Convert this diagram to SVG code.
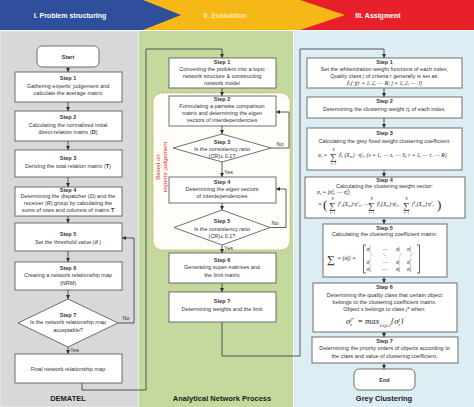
<svg xmlns="http://www.w3.org/2000/svg" width="474" height="407" viewBox="0 0 474 407">
<style>
.box{fill:#fff;stroke:#606060;stroke-width:0.9}
.t{font-family:"Liberation Sans",Arial,sans-serif;font-size:5.5px;fill:#333;text-anchor:middle}
.b{font-weight:bold}
.h{font-family:"Liberation Sans",Arial,sans-serif;font-size:7px;font-weight:bold;text-anchor:middle}
.lab{font-family:"Liberation Sans",Arial,sans-serif;font-size:7.5px;font-weight:bold;fill:#222;text-anchor:middle}
.m{font-family:"Liberation Serif","Times New Roman",serif;font-style:italic;font-size:5.5px;fill:#222}
.sm{font-size:3.8px}
.sum{font-family:"Liberation Serif","Times New Roman",serif;font-size:9px;fill:#222}
.lim{font-family:"Liberation Serif","Times New Roman",serif;font-style:italic;font-size:3.5px;fill:#222;text-anchor:middle}
.c{fill:none;stroke:#333;stroke-width:0.8}
.red{font-family:"Liberation Sans",Arial,sans-serif;font-size:6px;fill:#e0301e;text-anchor:middle}
.mx{font-family:"Liberation Serif","Times New Roman",serif;font-style:italic;font-size:5.2px;fill:#222}
.ms{font-size:3.4px}
</style>
<defs>
<marker id="ah" viewBox="0 0 10 10" refX="10" refY="5" markerWidth="4" markerHeight="4" orient="auto" markerUnits="userSpaceOnUse"><path d="M0,0 L10,5 L0,10 z" fill="#333"/></marker>
</defs>

<!-- header -->
<g id="header">
<rect x="300" y="0" width="174" height="30" fill="#e8202a"/>
<polygon points="143,0 300,0 345,15 300,30 143,30" fill="#f6b817"/>
<polygon points="0,0 143,0 181,15 143,30 0,30" fill="#2f4f9d"/>
<text class="h" x="70" y="17.5" fill="#fff">I. Problem structuring</text>
<text class="h" x="225" y="17.5" fill="#fdeaa6">II. Evaluation</text>
<text class="h" x="378" y="17.5" fill="#fff">III. Assigment</text>
</g>

<!-- panels -->
<g id="panels">
<rect x="0" y="31" width="138.5" height="376" fill="#d8d8d8" stroke="#ececec" stroke-width="1"/>
<rect x="139" y="31" width="154" height="376" fill="#c5d99f"/>
<rect x="294" y="31" width="180" height="376" fill="#dcedf3"/>
<rect x="153" y="93" width="137" height="157" rx="9" fill="#fffdf8" stroke="#c8925a" stroke-width="0.9" stroke-dasharray="1.2 1.2"/>
<text class="red" transform="translate(160,167) rotate(-90)">Based on</text>
<text class="red" transform="translate(167,167) rotate(-90)">experts' judgement</text>
<text class="lab" x="68" y="401">DEMATEL</text>
<text class="lab" x="222" y="401">Analytical Network Process</text>
<text class="lab" x="384" y="401">Grey Clustering</text>
</g>

<!-- connectors -->
<g id="connectors">
<line class="c" x1="68" y1="67" x2="68" y2="72" marker-end="url(#ah)"/>
<line class="c" x1="68" y1="102" x2="68" y2="111" marker-end="url(#ah)"/>
<line class="c" x1="68" y1="141" x2="68" y2="150" marker-end="url(#ah)"/>
<line class="c" x1="68" y1="177" x2="68" y2="187" marker-end="url(#ah)"/>
<line class="c" x1="68" y1="216" x2="68" y2="223" marker-end="url(#ah)"/>
<line class="c" x1="68" y1="251" x2="68" y2="262" marker-end="url(#ah)"/>
<line class="c" x1="68" y1="290" x2="68" y2="299" marker-end="url(#ah)"/>
<line class="c" x1="68" y1="347" x2="68" y2="354" marker-end="url(#ah)"/>
<polyline class="c" points="118,323 134,323 134,238 122,238" marker-end="url(#ah)"/>
<polyline class="c" points="82,383 82,390 146,390 146,49 222,49 222,58" marker-end="url(#ah)"/>

<line class="c" x1="222" y1="88" x2="222" y2="96" marker-end="url(#ah)"/>
<line class="c" x1="222" y1="126" x2="222" y2="134" marker-end="url(#ah)"/>
<line class="c" x1="222" y1="162" x2="222" y2="177" marker-end="url(#ah)"/>
<line class="c" x1="222" y1="203" x2="222" y2="210" marker-end="url(#ah)"/>
<line class="c" x1="222" y1="245" x2="222" y2="253" marker-end="url(#ah)"/>
<line class="c" x1="222" y1="283" x2="222" y2="292" marker-end="url(#ah)"/>
<polyline class="c" points="271,148 289,148 289,112 276,112" marker-end="url(#ah)"/>
<polyline class="c" points="270,227.5 286,227.5 286,189 276,189" marker-end="url(#ah)"/>
<polyline class="c" points="222,322 222,356 300,356 300,49 384,49 384,58" marker-end="url(#ah)"/>

<line class="c" x1="384" y1="88" x2="384" y2="97" marker-end="url(#ah)"/>
<line class="c" x1="384" y1="118" x2="384" y2="128" marker-end="url(#ah)"/>
<line class="c" x1="384" y1="170" x2="384" y2="177" marker-end="url(#ah)"/>
<line class="c" x1="384" y1="218" x2="384" y2="224" marker-end="url(#ah)"/>
<line class="c" x1="384" y1="277" x2="384" y2="283" marker-end="url(#ah)"/>
<line class="c" x1="384" y1="332" x2="384" y2="337" marker-end="url(#ah)"/>
<line class="c" x1="384" y1="363" x2="384" y2="369" marker-end="url(#ah)"/>

<text class="t" x="126" y="320">No</text>
<text class="t" x="70" y="352" style="text-anchor:start">Yes</text>
<text class="t" x="280" y="146">No</text>
<text class="t" x="224" y="174" style="text-anchor:start">Yes</text>
<text class="t" x="275" y="225">No</text>
<text class="t" x="224" y="250" style="text-anchor:start">Yes</text>
</g>

<!-- DEMATEL nodes -->
<g id="d-start"><rect class="box" x="37" y="46" width="62" height="21" rx="5"/><text class="t b" x="68" y="58.5">Start</text></g>
<g id="d-step1"><rect class="box" x="15" y="72" width="107" height="30"/>
<text class="t b" x="68" y="80">Step 1</text><text class="t" x="68" y="87.5">Gathering experts' judgement and</text><text class="t" x="68" y="94.5">calculate the average matrix</text></g>
<g id="d-step2"><rect class="box" x="15" y="111" width="107" height="30"/>
<text class="t b" x="68" y="119">Step 2</text><text class="t" x="68" y="126.5">Calculating the normalized initial</text><text class="t" x="68" y="133.5">direct-relation matrix (<tspan font-weight="bold">D</tspan>)</text></g>
<g id="d-step3"><rect class="box" x="15" y="150" width="107" height="27"/>
<text class="t b" x="68" y="160">Step 3</text><text class="t" x="68" y="168">Deriving the total relation matrix (<tspan font-weight="bold">T</tspan>)</text></g>
<g id="d-step4"><rect class="box" x="15" y="187" width="107" height="29"/>
<text class="t b" x="68" y="191.5">Step 4</text><text class="t" x="68" y="198">Determining the dispatcher (<tspan font-style="italic">D</tspan>) and the</text><text class="t" x="68" y="205">receiver (<tspan font-style="italic">R</tspan>) group by calculating the</text><text class="t" x="68" y="212">sums of rows and columns of matrix <tspan font-weight="bold">T</tspan></text></g>
<g id="d-step5"><rect class="box" x="15" y="223" width="107" height="28"/>
<text class="t b" x="68" y="236">Step 5</text><text class="t" x="68" y="243.5">Set the threshold value (<tspan font-style="italic">θ</tspan> )</text></g>
<g id="d-step6"><rect class="box" x="15" y="262" width="107" height="28"/>
<text class="t b" x="68" y="269.5">Step 6</text><text class="t" x="68" y="277">Creating a network relationship map</text><text class="t" x="68" y="284.5">(NRM)</text></g>
<g id="d-step7"><polygon class="box" points="68,299 118,323 68,347 18,323"/>
<text class="t b" x="68" y="316.5">Step 7</text><text class="t" x="68" y="324">Is the  network relationship map</text><text class="t" x="68" y="331.5">acceptable?</text></g>
<g id="d-final"><rect class="box" x="15" y="354" width="107" height="29"/>
<text class="t" x="68" y="370.5">Final  network relationship map</text></g>

<!-- ANP nodes -->
<g id="a-step1"><rect class="box" x="169" y="58" width="107" height="30"/>
<text class="t b" x="222" y="63.5">Step 1</text><text class="t" x="222" y="70.5">Converting the problem into a topic</text><text class="t" x="222" y="77.5">network structure &amp; constructing</text><text class="t" x="222" y="84.5">network model</text></g>
<g id="a-step2"><rect class="box" x="169" y="96" width="107" height="30"/>
<text class="t b" x="222" y="101">Step 2</text><text class="t" x="222" y="108">Formulating a pairwise comparison</text><text class="t" x="222" y="115">matrix and determining the eigen</text><text class="t" x="222" y="122">vectors of interdependencies</text></g>
<g id="a-step3"><polygon class="box" points="222,134 271,148 222,162 173,148"/>
<text class="t b" x="222" y="144">Step 3</text><text class="t" x="222" y="151">Is the consistency ratio</text><text class="t" x="222" y="158">(CR)≤ 0.1?</text></g>
<g id="a-step4"><rect class="box" x="169" y="177" width="107" height="26"/>
<text class="t b" x="222" y="184">Step 4</text><text class="t" x="222" y="191">Determining the eigen vectors</text><text class="t" x="222" y="198">of interdependencies</text></g>
<g id="a-step5"><polygon class="box" points="222,210 270,227.5 222,245 174,227.5"/>
<text class="t b" x="222" y="223">Step 5</text><text class="t" x="222" y="230.5">Is the consistency ratio</text><text class="t" x="222" y="238">(CR)≤ 0.1?</text></g>
<g id="a-step6"><rect class="box" x="169" y="253" width="107" height="30"/>
<text class="t b" x="222" y="261.5">Step 6</text><text class="t" x="222" y="269">Generating super-matrixes and</text><text class="t" x="222" y="276.5">the limit matrix</text></g>
<g id="a-step7"><rect class="box" x="169" y="292" width="107" height="30"/>
<text class="t b" x="222" y="303">Step 7</text><text class="t" x="222" y="311">Determining weights and the limit</text></g>

<!-- Grey clustering nodes -->
<g id="g-step1"><rect class="box" x="307" y="58" width="155" height="30"/>
<text class="t b" x="384.5" y="63.5">Step 1</text><text class="t" x="384.5" y="70.5">Set the whitenization weight functions of each index,</text><text class="t" x="384.5" y="77.5">Quality class <tspan font-style="italic">j</tspan> of criteria <tspan font-style="italic">r</tspan> generally is set as:</text>
<text class="m" x="384.5" y="85" text-anchor="middle">f<tspan class="sm" dy="-2">j</tspan><tspan class="sm" dy="3">r</tspan><tspan dy="-1">(·)(r = 1, 2, ⋯ R; j = 1, 2, ⋯ J)</tspan></text></g>
<g id="g-step2"><rect class="box" x="307" y="97" width="155" height="21"/>
<text class="t b" x="384.5" y="103">Step 2</text><text class="t" x="384.5" y="110.5">Determining the clustering weight <tspan font-style="italic">η</tspan><tspan font-style="italic" font-size="3.8" dy="1">r</tspan><tspan dy="-1"> of each index.</tspan></text></g>
<g id="g-step3"><rect class="box" x="307" y="128" width="155" height="42"/>
<text class="t b" x="384.5" y="134.5">Step 3</text><text class="t" x="384.5" y="143">Calculating the grey fixed weight clustering coefficient:</text>
<text class="m" x="318" y="157">σ<tspan class="sm" dy="1.2">s</tspan><tspan dy="-1.2"> =</tspan></text>
<text class="sum" x="330" y="159.5">∑</text><text class="lim" x="333.5" y="151">R</text><text class="lim" x="333.5" y="164.5">r=1</text>
<text class="m" x="339" y="157">f<tspan class="sm" dy="-2">j</tspan><tspan class="sm" dy="3">r</tspan><tspan dy="-1"> (X</tspan><tspan class="sm" dy="1.2">sr</tspan><tspan dy="-1.2">) · η</tspan><tspan class="sm" dy="-2">j</tspan><tspan class="sm" dy="3">r</tspan><tspan dy="-1">, (s = 1, ⋯ s, ⋯ S; r = 1, ⋯ r, ⋯ R)</tspan></text></g>
<g id="g-step4"><rect class="box" x="305" y="177" width="160" height="41"/>
<text class="t b" x="384.5" y="181.5">Step 4</text><text class="t" x="384.5" y="187.5">Calculating the clustering weight vector:</text>
<text class="m" x="317" y="194">σ<tspan class="sm" dy="1.2">s</tspan><tspan dy="-1.2"> = (σ</tspan><tspan class="sm" dy="-2">1</tspan><tspan class="sm" dx="-2" dy="3">s</tspan><tspan dy="-1">, ⋯ σ</tspan><tspan class="sm" dy="-2">J</tspan><tspan class="sm" dx="-2" dy="3">s</tspan><tspan dy="-1">)</tspan></text>
<text class="m" x="318" y="206">=</text>
<text class="sum" x="323" y="209" style="font-size:13px;font-style:normal">(</text>
<text class="sum" x="329" y="208.5">∑</text><text class="lim" x="332.5" y="200">R</text><text class="lim" x="332.5" y="213.5">r=1</text>
<text class="m" x="338" y="206">f<tspan class="sm" dy="-2">1</tspan><tspan class="sm" dy="3">r</tspan><tspan dy="-1">(X</tspan><tspan class="sm" dy="1.2">sr</tspan><tspan dy="-1.2">)·η</tspan><tspan class="sm" dy="-2">1</tspan><tspan class="sm" dy="3">r</tspan><tspan dy="-1">, ⋯</tspan></text>
<text class="sum" x="368" y="208.5">∑</text><text class="lim" x="371.5" y="200">R</text><text class="lim" x="371.5" y="213.5">r=1</text>
<text class="m" x="377" y="206">f<tspan class="sm" dy="-2">j</tspan><tspan class="sm" dy="3">r</tspan><tspan dy="-1">(X</tspan><tspan class="sm" dy="1.2">sr</tspan><tspan dy="-1.2">)·η</tspan><tspan class="sm" dy="-2">j</tspan><tspan class="sm" dy="3">r</tspan><tspan dy="-1">,</tspan></text>
<text class="sum" x="403" y="208.5">∑</text><text class="lim" x="406.5" y="200">R</text><text class="lim" x="406.5" y="213.5">r=1</text>
<text class="m" x="412" y="206">f<tspan class="sm" dy="-2">J</tspan><tspan class="sm" dy="3">r</tspan><tspan dy="-1">(X</tspan><tspan class="sm" dy="1.2">sr</tspan><tspan dy="-1.2">)·η</tspan><tspan class="sm" dy="-2">J</tspan><tspan class="sm" dy="3">r</tspan></text>
<text class="sum" x="437" y="209" style="font-size:13px;font-style:normal">)</text></g>
<g id="g-step5"><rect class="box" x="323" y="224" width="124" height="53"/>
<text class="t b" x="384.5" y="229.5">Step 5</text><text class="t" x="384.5" y="235.5">Calculating the clustering coefficient matrix:</text>
<text class="sum" x="327" y="263" style="font-size:11px">∑</text>
<text class="m" x="337" y="260" style="font-size:6px">= (σ<tspan class="sm" dy="-2">j</tspan><tspan class="sm" dx="-1.5" dy="3">s</tspan><tspan dy="-1">) =</tspan></text>
<path d="M366,245 h-2.5 v28 h2.5 M417,245 h2.5 v28 h-2.5" fill="none" stroke="#222" stroke-width="0.7"/>
<g class="mx">
<text x="366.5" y="250.5">σ<tspan class="ms" dy="-1.7">1</tspan><tspan class="ms" dx="-1.8" dy="2.8">1</tspan></text>
<text x="382" y="250.5">⋯</text>
<text x="396" y="250.5">σ<tspan class="ms" dy="-1.7">j</tspan><tspan class="ms" dx="-1.2" dy="2.8">1</tspan></text>
<text x="407" y="250.5">σ<tspan class="ms" dy="-1.7">J</tspan><tspan class="ms" dx="-1.5" dy="2.8">1</tspan></text>
<text x="367.5" y="257">⋮</text><text x="382" y="257">⋱</text><text x="397" y="257">⋮</text><text x="408" y="257">⋮</text>
<text x="366.5" y="263.5">σ<tspan class="ms" dy="-1.7">1</tspan><tspan class="ms" dx="-1.8" dy="2.8">s</tspan></text>
<text x="382" y="263.5">⋯</text>
<text x="396" y="263.5">σ<tspan class="ms" dy="-1.7">j</tspan><tspan class="ms" dx="-1.2" dy="2.8">s</tspan></text>
<text x="407" y="263.5">σ<tspan class="ms" dy="-1.7">J</tspan><tspan class="ms" dx="-1.5" dy="2.8">s</tspan></text>
<text x="366.5" y="270.5">σ<tspan class="ms" dy="-1.7">1</tspan><tspan class="ms" dx="-1.8" dy="2.8">S</tspan></text>
<text x="382" y="270.5">⋯</text>
<text x="396" y="270.5">σ<tspan class="ms" dy="-1.7">j</tspan><tspan class="ms" dx="-1.2" dy="2.8">S</tspan></text>
<text x="407" y="270.5">σ<tspan class="ms" dy="-1.7">J</tspan><tspan class="ms" dx="-1.5" dy="2.8">S</tspan></text>
</g></g>
<g id="g-step6"><rect class="box" x="313" y="283" width="144" height="49"/>
<text class="t b" x="384.5" y="289">Step 6</text><text class="t" x="384.5" y="296.5">Determining the quality class that certain object</text><text class="t" x="384.5" y="303.5">belongs to the clustering coefficient matrix.</text><text class="t" x="384.5" y="311">Object <tspan font-style="italic">s</tspan> belongs to class <tspan font-style="italic">j*</tspan> when:</text>
<text class="m" x="346" y="324" style="font-size:8.5px">σ<tspan dy="-3" style="font-size:5px">j*</tspan><tspan dx="-4" dy="5" style="font-size:5px">s</tspan><tspan dx="3" dy="-2">  = max</tspan><tspan dy="2.5" style="font-size:5px">1≤j≤J</tspan><tspan dy="-2.5">{σ</tspan><tspan dy="-3" style="font-size:5px">j</tspan><tspan dx="-1.5" dy="5" style="font-size:5px">s</tspan><tspan dy="-2">}</tspan></text></g>
<g id="g-step7"><rect class="box" x="312" y="337" width="146" height="26"/>
<text class="t b" x="384.5" y="342.5">Step 7</text><text class="t" x="384.5" y="350">Determining the priority orders of objects according to</text><text class="t" x="384.5" y="357.5">the class and value of clustering coefficient.</text></g>
<g id="g-end"><rect class="box" x="354" y="369" width="61" height="21" rx="5"/><text class="t b" x="384.5" y="381.5">End</text></g>
</svg>
